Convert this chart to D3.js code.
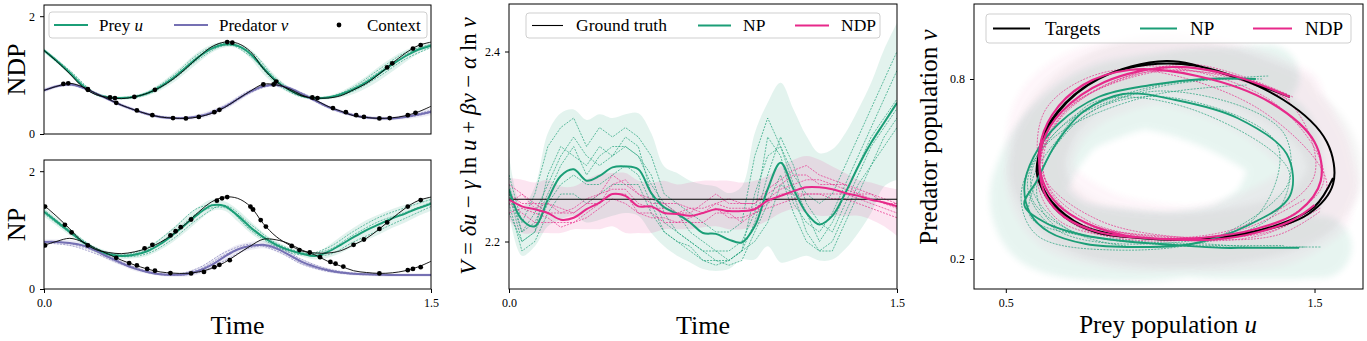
<!DOCTYPE html>
<html>
<head>
<meta charset="utf-8">
<script src="https://cdn.jsdelivr.net/npm/d3@7/dist/d3.min.js"></script>
<style>
  body { margin: 0; background: #fff; }
  text { font-family: "Liberation Serif", "DejaVu Serif", serif; fill: #000; }
</style>
</head>
<body>
<svg id="fig" width="1367" height="341"></svg>
<script>
// ---- time grids ----
const tFine = [0, 0.05, 0.1, 0.15, 0.2, 0.25, 0.3, 0.35, 0.4, 0.45, 0.5, 0.55, 0.6, 0.65, 0.7, 0.75,
  0.8, 0.85, 0.9, 0.95, 1.0, 1.05, 1.1, 1.15, 1.2, 1.25, 1.3, 1.35, 1.4, 1.45, 1.5];
const tCoarse = [0, 0.1, 0.2, 0.3, 0.4, 0.5, 0.6, 0.7, 0.8, 0.9, 1.0, 1.1, 1.2, 1.3, 1.4, 1.5];

// ---- ground truth trajectory ----
const gtPrey = [1.42, 1.23, 1.02, 0.80, 0.67, 0.62, 0.60, 0.63, 0.69, 0.79, 0.93, 1.11, 1.31, 1.48, 1.56, 1.54,
  1.40, 1.11, 0.89, 0.75, 0.645, 0.612, 0.61, 0.65, 0.75, 0.86, 1.02, 1.20, 1.37, 1.50, 1.56];
const gtPred = [0.74, 0.81, 0.86, 0.80, 0.69, 0.59, 0.49, 0.41, 0.34, 0.29, 0.27, 0.265, 0.29, 0.35, 0.45, 0.59,
  0.73, 0.845, 0.835, 0.77, 0.66, 0.58, 0.47, 0.39, 0.31, 0.28, 0.265, 0.275, 0.31, 0.375, 0.47];

// ---- NDP predictions ----
const ndpPrey = [1.42, 1.24, 1.04, 0.82, 0.68, 0.62, 0.61, 0.63, 0.69, 0.80, 0.95, 1.13, 1.31, 1.45, 1.52, 1.50,
  1.36, 1.12, 0.90, 0.75, 0.65, 0.61, 0.62, 0.67, 0.76, 0.88, 1.03, 1.18, 1.32, 1.43, 1.50];
const ndpPred = [0.74, 0.81, 0.84, 0.79, 0.69, 0.59, 0.49, 0.41, 0.34, 0.29, 0.27, 0.27, 0.30, 0.36, 0.46, 0.59,
  0.72, 0.81, 0.83, 0.78, 0.68, 0.57, 0.46, 0.38, 0.32, 0.28, 0.265, 0.265, 0.29, 0.33, 0.38];
const ndpPreySpread = [0.04, 0.04, 0.04, 0.03, 0.03, 0.03, 0.03, 0.03, 0.04, 0.06, 0.08, 0.09, 0.09, 0.07, 0.05, 0.05,
  0.08, 0.10, 0.08, 0.05, 0.04, 0.03, 0.03, 0.05, 0.08, 0.10, 0.12, 0.12, 0.10, 0.07, 0.05];
const ndpPredSpread = [0.04, 0.03, 0.03, 0.03, 0.03, 0.03, 0.03, 0.03, 0.03, 0.03, 0.03, 0.03, 0.04, 0.05, 0.05, 0.05,
  0.04, 0.03, 0.03, 0.03, 0.03, 0.03, 0.03, 0.03, 0.03, 0.03, 0.03, 0.03, 0.04, 0.05, 0.06];
const ndpPreySamples = [
  [1.43, 1.08, 0.70, 0.62, 0.71, 0.99, 1.36, 1.54, 1.32, 0.86, 0.63, 0.62, 0.80, 1.10, 1.38, 1.52],
  [1.41, 1.03, 0.67, 0.60, 0.67, 0.92, 1.27, 1.50, 1.40, 0.94, 0.67, 0.61, 0.73, 0.98, 1.27, 1.47],
  [1.42, 1.06, 0.69, 0.61, 0.70, 0.96, 1.33, 1.53, 1.37, 0.91, 0.65, 0.63, 0.78, 1.06, 1.35, 1.52]
];
const ndpPredSamples = [
  [0.74, 0.85, 0.70, 0.50, 0.35, 0.27, 0.29, 0.44, 0.70, 0.83, 0.70, 0.48, 0.33, 0.27, 0.28, 0.36],
  [0.75, 0.83, 0.68, 0.48, 0.33, 0.27, 0.31, 0.48, 0.74, 0.82, 0.66, 0.45, 0.31, 0.26, 0.30, 0.40],
  [0.73, 0.84, 0.69, 0.49, 0.34, 0.28, 0.30, 0.46, 0.72, 0.84, 0.68, 0.46, 0.32, 0.27, 0.29, 0.37]
];

// ---- NP predictions ----
const npPrey = [1.31, 1.14, 0.97, 0.80, 0.67, 0.59, 0.56, 0.58, 0.64, 0.76, 0.92, 1.10, 1.28, 1.42, 1.41, 1.25,
  1.05, 0.88, 0.75, 0.66, 0.60, 0.56, 0.63, 0.75, 0.88, 1.00, 1.10, 1.20, 1.28, 1.37, 1.45];
const npPred = [0.80, 0.80, 0.78, 0.74, 0.65, 0.54, 0.44, 0.35, 0.29, 0.25, 0.24, 0.25, 0.31, 0.41, 0.55, 0.67,
  0.73, 0.75, 0.69, 0.58, 0.46, 0.38, 0.32, 0.28, 0.26, 0.25, 0.243, 0.237, 0.237, 0.237, 0.237];
const npPreySpread = [0.08, 0.07, 0.06, 0.05, 0.05, 0.05, 0.05, 0.06, 0.08, 0.10, 0.12, 0.13, 0.12, 0.10, 0.08, 0.10,
  0.10, 0.08, 0.06, 0.05, 0.05, 0.06, 0.10, 0.14, 0.16, 0.17, 0.17, 0.16, 0.15, 0.13, 0.12];
const npPredSpread = [0.04, 0.04, 0.05, 0.05, 0.05, 0.05, 0.04, 0.04, 0.03, 0.03, 0.03, 0.04, 0.06, 0.08, 0.09, 0.08,
  0.07, 0.06, 0.06, 0.05, 0.05, 0.04, 0.04, 0.03, 0.03, 0.03, 0.03, 0.03, 0.03, 0.03, 0.03];
const npPreySamples = [
  [1.33, 1.00, 0.70, 0.58, 0.70, 1.02, 1.38, 1.40, 1.00, 0.72, 0.58, 0.70, 0.98, 1.22, 1.38, 1.52],
  [1.28, 0.95, 0.65, 0.55, 0.60, 0.85, 1.20, 1.42, 1.10, 0.78, 0.62, 0.58, 0.80, 1.00, 1.20, 1.40],
  [1.35, 0.98, 0.68, 0.57, 0.66, 0.95, 1.30, 1.38, 1.02, 0.76, 0.60, 0.66, 0.92, 1.15, 1.30, 1.47]
];
const npPredSamples = [
  [0.80, 0.78, 0.66, 0.46, 0.30, 0.24, 0.36, 0.62, 0.76, 0.65, 0.42, 0.30, 0.25, 0.24, 0.24, 0.24],
  [0.78, 0.74, 0.60, 0.42, 0.28, 0.23, 0.28, 0.48, 0.70, 0.72, 0.50, 0.34, 0.27, 0.25, 0.245, 0.245],
  [0.81, 0.77, 0.64, 0.45, 0.30, 0.25, 0.33, 0.58, 0.74, 0.68, 0.44, 0.31, 0.26, 0.25, 0.24, 0.24]
];

// ---- context points ----
const ndpCtxT = [0.075, 0.094, 0.17, 0.28, 0.36, 0.42, 0.50, 0.55, 0.60, 0.66, 0.68, 0.85, 0.89, 1.12, 1.17, 1.21,
  1.24, 1.30, 1.34, 1.41, 1.44, 0.17, 0.256, 0.275, 0.35, 0.43, 0.71, 0.73, 0.90, 1.04, 1.06, 1.33, 1.35, 1.43, 1.46];
const ndpCtxVal = [0.85, 0.86, 0.76, 0.53, 0.40, 0.32, 0.27, 0.265, 0.29, 0.37, 0.41, 0.84, 0.84, 0.44, 0.37, 0.32,
  0.29, 0.265, 0.27, 0.32, 0.36, 0.75, 0.62, 0.61, 0.63, 0.75, 1.56, 1.55, 0.89, 0.62, 0.61, 1.13, 1.20, 1.45, 1.51];
const npCtxT = [0.004, 0.081, 0.107, 0.17, 0.39, 0.42, 0.49, 0.51, 0.53, 0.57, 0.67, 0.69, 0.71, 0.80, 0.81, 0.84,
  0.86, 0.96, 0.99, 1.03, 1.20, 1.24, 1.30, 1.33, 1.41, 1.46, 0.004, 0.28, 0.33, 0.36, 0.40, 0.43, 0.49, 0.57, 0.62,
  0.66, 0.68, 0.72, 1.07, 1.11, 1.13, 1.16, 1.30, 1.41, 1.43, 1.46];
const npCtxVal = [1.40, 1.09, 0.96, 0.74, 0.69, 0.75, 0.91, 0.98, 1.05, 1.18, 1.50, 1.54, 1.56, 1.40, 1.35, 1.17,
  1.06, 0.73, 0.66, 0.62, 0.75, 0.84, 1.02, 1.13, 1.40, 1.51, 0.74, 0.53, 0.44, 0.40, 0.34, 0.31, 0.27, 0.265, 0.29,
  0.37, 0.41, 0.49, 0.54, 0.46, 0.43, 0.38, 0.265, 0.32, 0.34, 0.37];

// ---- energy V(t) ----
const gtEnergy = 2.2444;
const npEnergy = [2.255, 2.223, 2.216, 2.244, 2.269, 2.276, 2.264, 2.269, 2.278, 2.279, 2.276, 2.251, 2.236, 2.229,
  2.220, 2.209, 2.208, 2.202, 2.199, 2.216, 2.255, 2.283, 2.255, 2.230, 2.218, 2.227, 2.251, 2.279, 2.304, 2.325, 2.346];
const npEnergyHi = [2.290, 2.237, 2.258, 2.314, 2.335, 2.339, 2.328, 2.334, 2.330, 2.334, 2.335, 2.314, 2.279, 2.272,
  2.264, 2.260, 2.258, 2.251, 2.258, 2.314, 2.346, 2.367, 2.339, 2.311, 2.293, 2.297, 2.314, 2.339, 2.367, 2.402, 2.430];
const npEnergyLo = [2.230, 2.185, 2.195, 2.216, 2.223, 2.227, 2.220, 2.223, 2.227, 2.230, 2.227, 2.209, 2.195, 2.185,
  2.178, 2.171, 2.169, 2.171, 2.181, 2.181, 2.195, 2.178, 2.181, 2.185, 2.180, 2.181, 2.192, 2.209, 2.230, 2.258, 2.265];
const npEnergySamples = [
  [2.27, 2.22, 2.25, 2.30, 2.32, 2.33, 2.30, 2.32, 2.31, 2.32, 2.31, 2.29, 2.25, 2.24, 2.23, 2.22, 2.21, 2.21, 2.22, 2.29, 2.33, 2.30, 2.27, 2.25, 2.24, 2.25, 2.28, 2.31, 2.34, 2.37, 2.40],
  [2.25, 2.20, 2.21, 2.27, 2.30, 2.29, 2.28, 2.30, 2.29, 2.30, 2.29, 2.26, 2.24, 2.23, 2.21, 2.20, 2.19, 2.19, 2.20, 2.23, 2.31, 2.29, 2.24, 2.22, 2.21, 2.23, 2.26, 2.29, 2.32, 2.35, 2.38],
  [2.24, 2.19, 2.20, 2.23, 2.25, 2.25, 2.24, 2.25, 2.26, 2.26, 2.26, 2.23, 2.21, 2.20, 2.19, 2.18, 2.175, 2.18, 2.19, 2.20, 2.22, 2.26, 2.25, 2.21, 2.19, 2.20, 2.23, 2.26, 2.28, 2.30, 2.32],
  [2.26, 2.21, 2.22, 2.25, 2.28, 2.30, 2.27, 2.29, 2.30, 2.30, 2.29, 2.27, 2.23, 2.21, 2.20, 2.19, 2.19, 2.18, 2.19, 2.25, 2.29, 2.30, 2.26, 2.23, 2.20, 2.22, 2.25, 2.28, 2.31, 2.33, 2.35],
  [2.25, 2.21, 2.23, 2.26, 2.29, 2.31, 2.29, 2.28, 2.29, 2.31, 2.30, 2.25, 2.22, 2.21, 2.20, 2.19, 2.18, 2.18, 2.19, 2.22, 2.27, 2.31, 2.28, 2.24, 2.22, 2.21, 2.24, 2.27, 2.30, 2.32, 2.34],
  [2.23, 2.20, 2.21, 2.24, 2.26, 2.27, 2.26, 2.26, 2.27, 2.28, 2.27, 2.24, 2.21, 2.20, 2.195, 2.18, 2.18, 2.175, 2.18, 2.21, 2.24, 2.27, 2.23, 2.20, 2.19, 2.19, 2.22, 2.25, 2.28, 2.31, 2.33]
];
const ndpEnergy = [2.244, 2.237, 2.234, 2.230, 2.223, 2.225, 2.234, 2.241, 2.250, 2.248, 2.237, 2.237, 2.230, 2.229,
  2.227, 2.230, 2.234, 2.232, 2.232, 2.234, 2.243, 2.248, 2.253, 2.257, 2.257, 2.255, 2.251, 2.248, 2.244, 2.241, 2.237];
const ndpEnergyHi = [2.267, 2.265, 2.262, 2.265, 2.258, 2.258, 2.265, 2.271, 2.272, 2.272, 2.264, 2.262, 2.264, 2.260,
  2.262, 2.264, 2.264, 2.264, 2.262, 2.264, 2.269, 2.279, 2.286, 2.290, 2.286, 2.279, 2.272, 2.265, 2.262, 2.258, 2.255];
const ndpEnergyLo = [2.223, 2.209, 2.209, 2.209, 2.209, 2.213, 2.213, 2.213, 2.216, 2.209, 2.209, 2.209, 2.213, 2.213,
  2.213, 2.215, 2.216, 2.213, 2.213, 2.216, 2.222, 2.230, 2.234, 2.230, 2.227, 2.227, 2.227, 2.227, 2.223, 2.216, 2.206];
const ndpEnergySamples = [
  [2.25, 2.24, 2.24, 2.23, 2.23, 2.23, 2.24, 2.25, 2.27, 2.26, 2.25, 2.24, 2.24, 2.23, 2.23, 2.24, 2.25, 2.24, 2.24, 2.24, 2.25, 2.26, 2.27, 2.27, 2.26, 2.26, 2.26, 2.25, 2.25, 2.24, 2.24],
  [2.24, 2.23, 2.22, 2.22, 2.22, 2.22, 2.23, 2.24, 2.25, 2.25, 2.23, 2.23, 2.22, 2.22, 2.22, 2.22, 2.23, 2.23, 2.22, 2.23, 2.24, 2.25, 2.25, 2.25, 2.25, 2.25, 2.25, 2.245, 2.24, 2.235, 2.23],
  [2.26, 2.25, 2.24, 2.24, 2.235, 2.23, 2.24, 2.24, 2.26, 2.265, 2.25, 2.245, 2.24, 2.24, 2.235, 2.23, 2.24, 2.245, 2.24, 2.24, 2.255, 2.265, 2.275, 2.28, 2.27, 2.265, 2.26, 2.255, 2.25, 2.245, 2.24],
  [2.23, 2.235, 2.23, 2.225, 2.215, 2.22, 2.225, 2.235, 2.245, 2.24, 2.23, 2.225, 2.225, 2.22, 2.225, 2.23, 2.235, 2.225, 2.225, 2.23, 2.235, 2.24, 2.245, 2.25, 2.25, 2.245, 2.245, 2.24, 2.235, 2.23, 2.225],
  [2.24, 2.25, 2.235, 2.24, 2.23, 2.235, 2.245, 2.25, 2.255, 2.255, 2.24, 2.235, 2.235, 2.23, 2.235, 2.235, 2.24, 2.235, 2.235, 2.235, 2.245, 2.255, 2.26, 2.265, 2.265, 2.26, 2.255, 2.25, 2.245, 2.24, 2.235]
];

const GREEN = '#1b9e77', PURPLE = '#7570b3', PINK = '#e7298a';
const svg = d3.select('#fig');

// ---- scales ----
const xA = d3.scaleLinear([0, 1.5], [44, 431]);
const yA = d3.scaleLinear([0, 2.19], [134, 5]);
const yB = d3.scaleLinear([0, 2.19], [289, 160]);
const xC = d3.scaleLinear([0, 1.5], [509, 897]);
const yC = d3.scaleLinear([2.15, 2.45], [289, 4]);
const xD = d3.scaleLinear([0.397, 1.657], [974, 1363]);
const yD = d3.scaleLinear([0.1, 1.05], [289, 4]);

let clipN = 0;
function makePanel(x, y) {
  const id = 'clip' + (clipN++);
  svg.append('clipPath').attr('id', id).append('rect')
    .attr('x', x.range()[0]).attr('y', y.range()[1])
    .attr('width', x.range()[1] - x.range()[0])
    .attr('height', y.range()[0] - y.range()[1]);
  return svg.append('g').attr('clip-path', `url(#${id})`);
}

function frame(x, y, xt, yt, xfmt, yfmt) {
  const ya = svg.append('g').attr('transform', `translate(${x.range()[0]},0)`)
    .call(d3.axisLeft(y).tickValues(yt).tickSize(4).tickPadding(5).tickFormat(yfmt));
  ya.select('.domain').remove();
  ya.attr('font-family', null).attr('font-size', 12);
  if (xt) {
    const xa = svg.append('g').attr('transform', `translate(0,${y.range()[0]})`)
      .call(d3.axisBottom(x).tickValues(xt).tickSize(4).tickPadding(5).tickFormat(xfmt));
    xa.select('.domain').remove();
    xa.attr('font-family', null).attr('font-size', 12);
  }
  svg.append('rect')
    .attr('x', x.range()[0]).attr('y', y.range()[1])
    .attr('width', x.range()[1] - x.range()[0])
    .attr('height', y.range()[0] - y.range()[1])
    .attr('fill', 'none').attr('stroke', '#000').attr('stroke-width', 1);
}

function tsLine(x, y, ts) {
  return d3.line().x((d, i) => x(ts[i])).y(d => y(d)).curve(d3.curveCatmullRom);
}
function tsBand(x, y, ts, lo, hi) {
  return d3.area().x((d, i) => x(ts[i])).y0((d, i) => y(lo[i])).y1((d, i) => y(hi[i]))
    .curve(d3.curveCatmullRom);
}

// ---- left panels: trajectories ----
function trajPanel(y, prey, pred, preySp, predSp, preyS, predS, ctxT, ctxV) {
  const g = makePanel(xA, y);
  [[prey, preySp, GREEN], [pred, predSp, PURPLE]].forEach(([m, s, c]) => {
    g.append('path').datum(m)
      .attr('d', tsBand(xA, y, tFine, m.map((v, i) => v - s[i]), m.map((v, i) => v + s[i])))
      .attr('fill', c).attr('fill-opacity', 0.13);
  });
  [[preyS, GREEN], [predS, PURPLE]].forEach(([set, c]) => {
    set.forEach(s => g.append('path').datum(s).attr('d', tsLine(xA, y, tCoarse))
      .attr('fill', 'none').attr('stroke', c).attr('stroke-width', 0.8)
      .attr('stroke-dasharray', '2,1.2').attr('opacity', 0.8));
  });
  g.append('path').datum(prey).attr('d', tsLine(xA, y, tFine))
    .attr('fill', 'none').attr('stroke', GREEN).attr('stroke-width', 2);
  g.append('path').datum(pred).attr('d', tsLine(xA, y, tFine))
    .attr('fill', 'none').attr('stroke', PURPLE).attr('stroke-width', 2);
  [gtPrey, gtPred].forEach(s => g.append('path').datum(s).attr('d', tsLine(xA, y, tFine))
    .attr('fill', 'none').attr('stroke', '#000').attr('stroke-width', 0.9));
  g.selectAll('circle.ctx').data(ctxT).join('circle').attr('class', 'ctx')
    .attr('cx', d => xA(d)).attr('cy', (d, i) => y(ctxV[i])).attr('r', 2.4).attr('fill', '#000');
}

trajPanel(yA, ndpPrey, ndpPred, ndpPreySpread, ndpPredSpread, ndpPreySamples, ndpPredSamples, ndpCtxT, ndpCtxVal);
trajPanel(yB, npPrey, npPred, npPreySpread, npPredSpread, npPreySamples, npPredSamples, npCtxT, npCtxVal);
frame(xA, yA, null, [0, 2], null, d3.format('d'));
frame(xA, yB, [0, 1.5], [0, 2], d3.format('.1f'), d3.format('d'));

// ---- middle panel: energy ----
{
  const g = makePanel(xC, yC);
  g.append('path').datum(npEnergy).attr('d', tsBand(xC, yC, tFine, npEnergyLo, npEnergyHi))
    .attr('fill', GREEN).attr('fill-opacity', 0.12);
  g.append('path').datum(ndpEnergy).attr('d', tsBand(xC, yC, tFine, ndpEnergyLo, ndpEnergyHi))
    .attr('fill', PINK).attr('fill-opacity', 0.12);
  npEnergySamples.forEach(s => g.append('path').datum(s)
    .attr('d', d3.line().x((d, i) => xC(tFine[i])).y(d => yC(d)))
    .attr('fill', 'none').attr('stroke', GREEN).attr('stroke-width', 0.8)
    .attr('stroke-dasharray', '2,1.2').attr('opacity', 0.85));
  ndpEnergySamples.forEach(s => g.append('path').datum(s)
    .attr('d', d3.line().x((d, i) => xC(tFine[i])).y(d => yC(d)))
    .attr('fill', 'none').attr('stroke', PINK).attr('stroke-width', 0.8)
    .attr('stroke-dasharray', '2,1.2').attr('opacity', 0.85));
  g.append('line').attr('x1', xC(0)).attr('x2', xC(1.5))
    .attr('y1', yC(gtEnergy)).attr('y2', yC(gtEnergy))
    .attr('stroke', '#000').attr('stroke-width', 1.1);
  g.append('path').datum(npEnergy).attr('d', tsLine(xC, yC, tFine))
    .attr('fill', 'none').attr('stroke', GREEN).attr('stroke-width', 2);
  g.append('path').datum(ndpEnergy).attr('d', tsLine(xC, yC, tFine))
    .attr('fill', 'none').attr('stroke', PINK).attr('stroke-width', 2);
}
frame(xC, yC, [0, 1.5], [2.2, 2.4], d3.format('.1f'), d3.format('.1f'));

// ---- right panel: phase portrait ----
{
  const defs = svg.append('defs');
  defs.append('filter').attr('id', 'soft').attr('x', '-20%').attr('y', '-20%')
    .attr('width', '140%').attr('height', '140%')
    .append('feGaussianBlur').attr('stdDeviation', 3);
  const g = makePanel(xD, yD);
  const phase = (u, v) => d3.line().x((d, i) => xD(u[i])).y((d, i) => yD(v[i])).curve(d3.curveCatmullRom)(u);

  // uncertainty rings: union of thick strokes, one opacity per model
  function ring(paths, color, op, w) {
    const rg = g.append('g').attr('opacity', op).attr('filter', 'url(#soft)');
    paths.forEach(([u, v]) => rg.append('path').attr('d', phase(u, v)).attr('fill', 'none')
      .attr('stroke', color).attr('stroke-width', w)
      .attr('stroke-linejoin', 'round').attr('stroke-linecap', 'round'));
  }
  ring([[npPrey, npPred]].concat(npPreySamples.map((s, k) => [s, npPredSamples[k]])), GREEN, 0.1, 62);
  ring([[gtPrey, gtPred]], '#808080', 0.08, 54);
  ring([[ndpPrey, ndpPred]].concat(ndpPreySamples.map((s, k) => [s, ndpPredSamples[k]])), PINK, 0.045, 62);

  npPreySamples.forEach((s, k) => g.append('path').attr('d', phase(s, npPredSamples[k]))
    .attr('fill', 'none').attr('stroke', GREEN).attr('stroke-width', 0.8)
    .attr('stroke-dasharray', '2,1.2').attr('opacity', 0.85));
  ndpPreySamples.forEach((s, k) => g.append('path').attr('d', phase(s, ndpPredSamples[k]))
    .attr('fill', 'none').attr('stroke', PINK).attr('stroke-width', 0.8)
    .attr('stroke-dasharray', '2,1.2').attr('opacity', 0.85));
  g.append('path').attr('d', phase(gtPrey, gtPred)).attr('fill', 'none')
    .attr('stroke', '#000').attr('stroke-width', 2);
  g.append('path').attr('d', phase(npPrey, npPred)).attr('fill', 'none')
    .attr('stroke', GREEN).attr('stroke-width', 1.8);
  g.append('path').attr('d', phase(ndpPrey, ndpPred)).attr('fill', 'none')
    .attr('stroke', PINK).attr('stroke-width', 2.2);
}
frame(xD, yD, [0.5, 1.5], [0.2, 0.8], d3.format('.1f'), d3.format('.1f'));

// ---- legends ----
function legend(box, fs, items) {
  svg.append('rect').attr('x', box[0]).attr('y', box[1]).attr('width', box[2]).attr('height', box[3])
    .attr('rx', 3).attr('fill', '#fff').attr('fill-opacity', 0.8)
    .attr('stroke', '#cfcfcf').attr('stroke-width', 1);
  const cy = box[1] + box[3] / 2;
  items.forEach(it => {
    if (it.dot) {
      svg.append('circle').attr('cx', it.x0 + 17).attr('cy', cy).attr('r', 2.4).attr('fill', '#000');
    } else {
      svg.append('line').attr('x1', it.x0).attr('x2', it.x0 + it.len).attr('y1', cy).attr('y2', cy)
        .attr('stroke', it.color).attr('stroke-width', it.w);
    }
    const t = svg.append('text').attr('x', it.tx).attr('y', cy + fs * 0.33).attr('font-size', fs);
    t.append('tspan').text(it.label);
    if (it.math) t.append('tspan').attr('font-style', 'italic').text(it.math);
  });
}
legend([49, 12, 378, 26], 17, [
  { x0: 54, len: 34, color: GREEN, w: 2, tx: 99, label: 'Prey ', math: 'u' },
  { x0: 174, len: 34, color: PURPLE, w: 2, tx: 219, label: 'Predator ', math: 'v' },
  { x0: 322, dot: true, tx: 367, label: 'Context' }
]);
legend([526, 13, 354, 25], 17.5, [
  { x0: 532, len: 31, color: '#000', w: 1.1, tx: 576, label: 'Ground truth' },
  { x0: 698, len: 33, color: GREEN, w: 2, tx: 743, label: 'NP' },
  { x0: 795, len: 34, color: PINK, w: 2, tx: 841, label: 'NDP' }
]);
legend([986, 14, 365, 29], 19, [
  { x0: 993, len: 37, color: '#000', w: 2, tx: 1045, label: 'Targets' },
  { x0: 1140, len: 37, color: GREEN, w: 2, tx: 1190, label: 'NP' },
  { x0: 1253, len: 39, color: PINK, w: 2, tx: 1305, label: 'NDP' }
]);

// ---- axis labels ----
function label(x, y, rot, parts, fs) {
  const t = svg.append('text').attr('text-anchor', 'middle').attr('font-size', fs)
    .attr('transform', `translate(${x},${y}) rotate(${rot})`);
  parts.forEach(p => t.append('tspan').attr('font-style', p[1] ? 'italic' : null).text(p[0]));
}
label(25, 69.5, -90, [['NDP']], 26);
label(25, 224.5, -90, [['NP']], 26);
label(237.5, 334, 0, [['Time']], 26);
label(703, 334, 0, [['Time']], 26);
label(1168, 333, 0, [['Prey population '], ['u', 1]], 25);
label(937, 137, -90, [['Predator population '], ['v', 1]], 25);
label(476, 146, -90, [['V', 1], [' = '], ['δu', 1], [' − '], ['γ', 1], [' ln '], ['u', 1], [' + '],
  ['βv', 1], [' − '], ['α', 1], [' ln '], ['v', 1]], 23);
</script>
</body>
</html>
